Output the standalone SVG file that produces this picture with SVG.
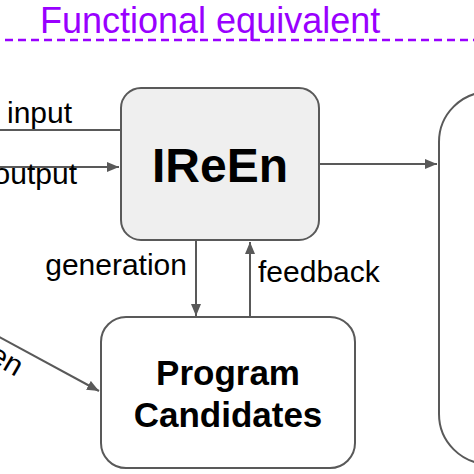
<svg xmlns="http://www.w3.org/2000/svg" width="474" height="474" viewBox="0 0 474 474">
<defs>
<marker id="ah" viewBox="0 0 12 10" refX="12" refY="5" markerWidth="12" markerHeight="10" markerUnits="userSpaceOnUse" orient="auto">
<path d="M0,0 L12,5 L0,10 z" fill="#595959"/>
</marker>
<style>
.lbl{font-family:"Liberation Sans",Arial,sans-serif;font-size:30px;fill:#000}
.bold{font-family:"Liberation Sans",Arial,sans-serif;font-weight:bold;fill:#000;text-anchor:middle}
.c{stroke:#595959;stroke-width:2;fill:none}
.box{stroke:#595959;stroke-width:2}
</style>
</defs>
<rect width="474" height="474" fill="#fff"/>
<g id="title">
<text x="40" y="33" font-family="Liberation Sans, Arial, sans-serif" font-size="36" fill="#9900ff">Functional equivalent</text>
<line x1="5" y1="40" x2="474" y2="40" stroke="#9900ff" stroke-width="2.5" stroke-dasharray="8,5"/>
</g>
<g id="connectors">
<line class="c" x1="0" y1="130" x2="121" y2="130"/>
<line class="c" x1="0" y1="167" x2="119" y2="167" marker-end="url(#ah)"/>
<line class="c" x1="319" y1="164" x2="437" y2="164" marker-end="url(#ah)"/>
<line class="c" x1="196" y1="240" x2="196" y2="316" marker-end="url(#ah)"/>
<line class="c" x1="250" y1="317" x2="250" y2="242" marker-end="url(#ah)"/>
<line class="c" x1="-10" y1="332" x2="99" y2="391" marker-end="url(#ah)"/>
<text class="lbl" x="7" y="123">input</text>
<text class="lbl" x="77" y="184" text-anchor="end">output</text>
<text class="lbl" x="187" y="275" text-anchor="end">generation</text>
<text class="lbl" x="258" y="282">feedback</text>
<text class="lbl" transform="translate(16,377) rotate(30)" text-anchor="end">en</text>
</g>
<g id="ireen">
<rect class="box" x="121" y="88" width="198" height="152" rx="20" fill="#efefef"/>
<text class="bold" x="220" y="182" font-size="48">IReEn</text>
</g>
<g id="candidates">
<rect class="box" x="101" y="317" width="254" height="151" rx="25" fill="#fff"/>
<text class="bold" x="228" y="385" font-size="35">Program</text>
<text class="bold" x="228" y="427" font-size="35">Candidates</text>
</g>
<g id="right-box">
<rect class="box" x="439" y="92" width="120" height="372" rx="50" fill="#fff"/>
</g>
</svg>
